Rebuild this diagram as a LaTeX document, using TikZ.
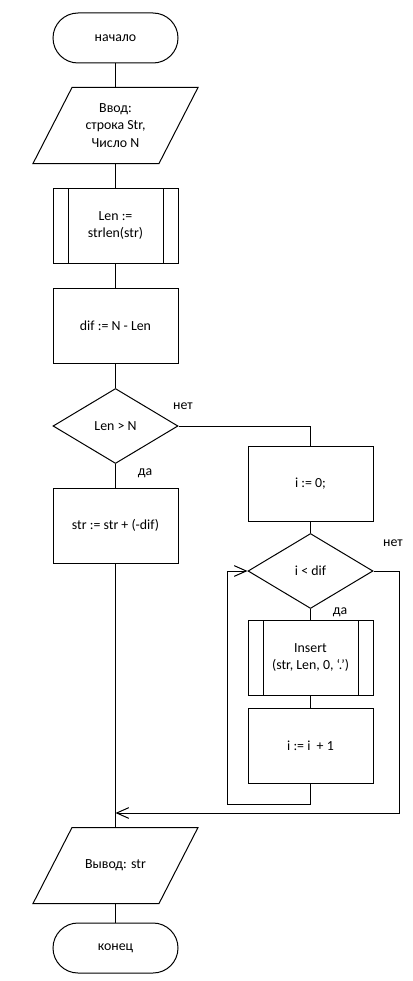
\documentclass[tikz,border=0pt]{standalone}
\usepackage{fontspec}
\setmainfont{Carlito}
\usetikzlibrary{shapes.geometric,arrows.meta}
\def\drawio(#1){\draw[line] ([xshift=14.625pt]#1.north west) -- ([xshift=14.625pt]#1.north east) -- ([xshift=-14.625pt]#1.south east) -- ([xshift=-14.625pt]#1.south west) -- cycle;}

\tikzset{
	base/.style={draw, line width=0.75pt, align=center, inner sep=0pt, font=\fontsize{10.4}{13}\selectfont},
	term/.style={base, rectangle, rounded corners=18.75pt, minimum width=93.75pt, minimum height=37.5pt},
	io/.style={base, draw=none, rectangle, minimum width=93.75pt, minimum height=56.25pt},
	proc/.style={base, rectangle, minimum width=93.75pt, minimum height=56.25pt},
	subproc/.style={proc, path picture={
		\draw[line width=0.75pt] ([xshift=11.25pt]path picture bounding box.north west) -- ([xshift=11.25pt]path picture bounding box.south west);
		\draw[line width=0.75pt] ([xshift=-11.25pt]path picture bounding box.north east) -- ([xshift=-11.25pt]path picture bounding box.south east);}},
	cond/.style={base, diamond, aspect=1.6667, minimum width=93.75pt, minimum height=56.25pt},
	line/.style={line width=0.75pt},
	arr/.style={line, -{Straight Barb[length=9pt,width=8pt]}},
	lbl/.style={inner sep=0pt, font=\fontsize{10.4}{13}\selectfont}
}

\begin{document}
\begin{tikzpicture}[x=0.75pt, y=-0.75pt]
			%%%%% START %%%%%
			\useasboundingbox (0,0) rectangle (412,981);
			
			\node[term] (start) at (115.5, 38) {начало};
			\node[io] (in) at (115.5, 125.5) {Ввод:\\строка Str,\\Число N};
			\drawio(in)
			\node[subproc] (len) at (115.5, 225.5) {Len :=\\strlen(str)};
			\node[proc] (dif) at (115.5, 325.5) {dif := N - Len};
			\node[cond] (cmp) at (115.5, 426) {Len > N};
			\node[proc] (str) at (115.5, 525.5) {str := str + (-dif)};
			
			\node[proc] (i0) at (310.5, 483.5) {i := 0;};
			\node[cond] (loop) at (310.5, 571) {i < dif};
			\node[subproc] (ins) at (310.5, 657.5) {Insert\\(str, Len, 0, ‘.’)};
			\node[proc] (inc) at (310.5, 745.5) {i := i~ + 1};
			
			\node[io] (out) at (115.5, 865.5) {Вывод: str};
			\drawio(out)
			\node[term] (stop) at (115.5, 948) {конец};
			
			\node[lbl] (no1) at (183, 406) {нет};
			\node[lbl] (yes1) at (145, 473) {да};
			\node[lbl] (no2) at (393, 543) {нет};
			\node[lbl] (yes2) at (340, 612) {да};
			
			\coordinate (back) at (227, 804);
			\coordinate (exit) at (399, 813);
			\coordinate (join) at (115.5, 813);
			
			\draw[line] (start) -- (in);
			\draw[line] (in) -- (len);
			\draw[line] (len) -- (dif);
			\draw[line] (dif) -- (cmp);
			\draw[line] (cmp) -- (str);
			\draw[line] (cmp.east) -| (i0.north);
			\draw[line] (i0) -- (loop);
			\draw[line] (loop) -- (ins);
			\draw[line] (ins) -- (inc);
			\draw[arr] (inc.south) |- (back) |- (loop.west);
			\draw[arr] (loop.east) -| (exit) -- (join);
			\draw[line] (str) -- (out);
			\draw[line] (out) -- (stop);
			
			%%%%% END %%%%%
\end{tikzpicture}
\end{document}
